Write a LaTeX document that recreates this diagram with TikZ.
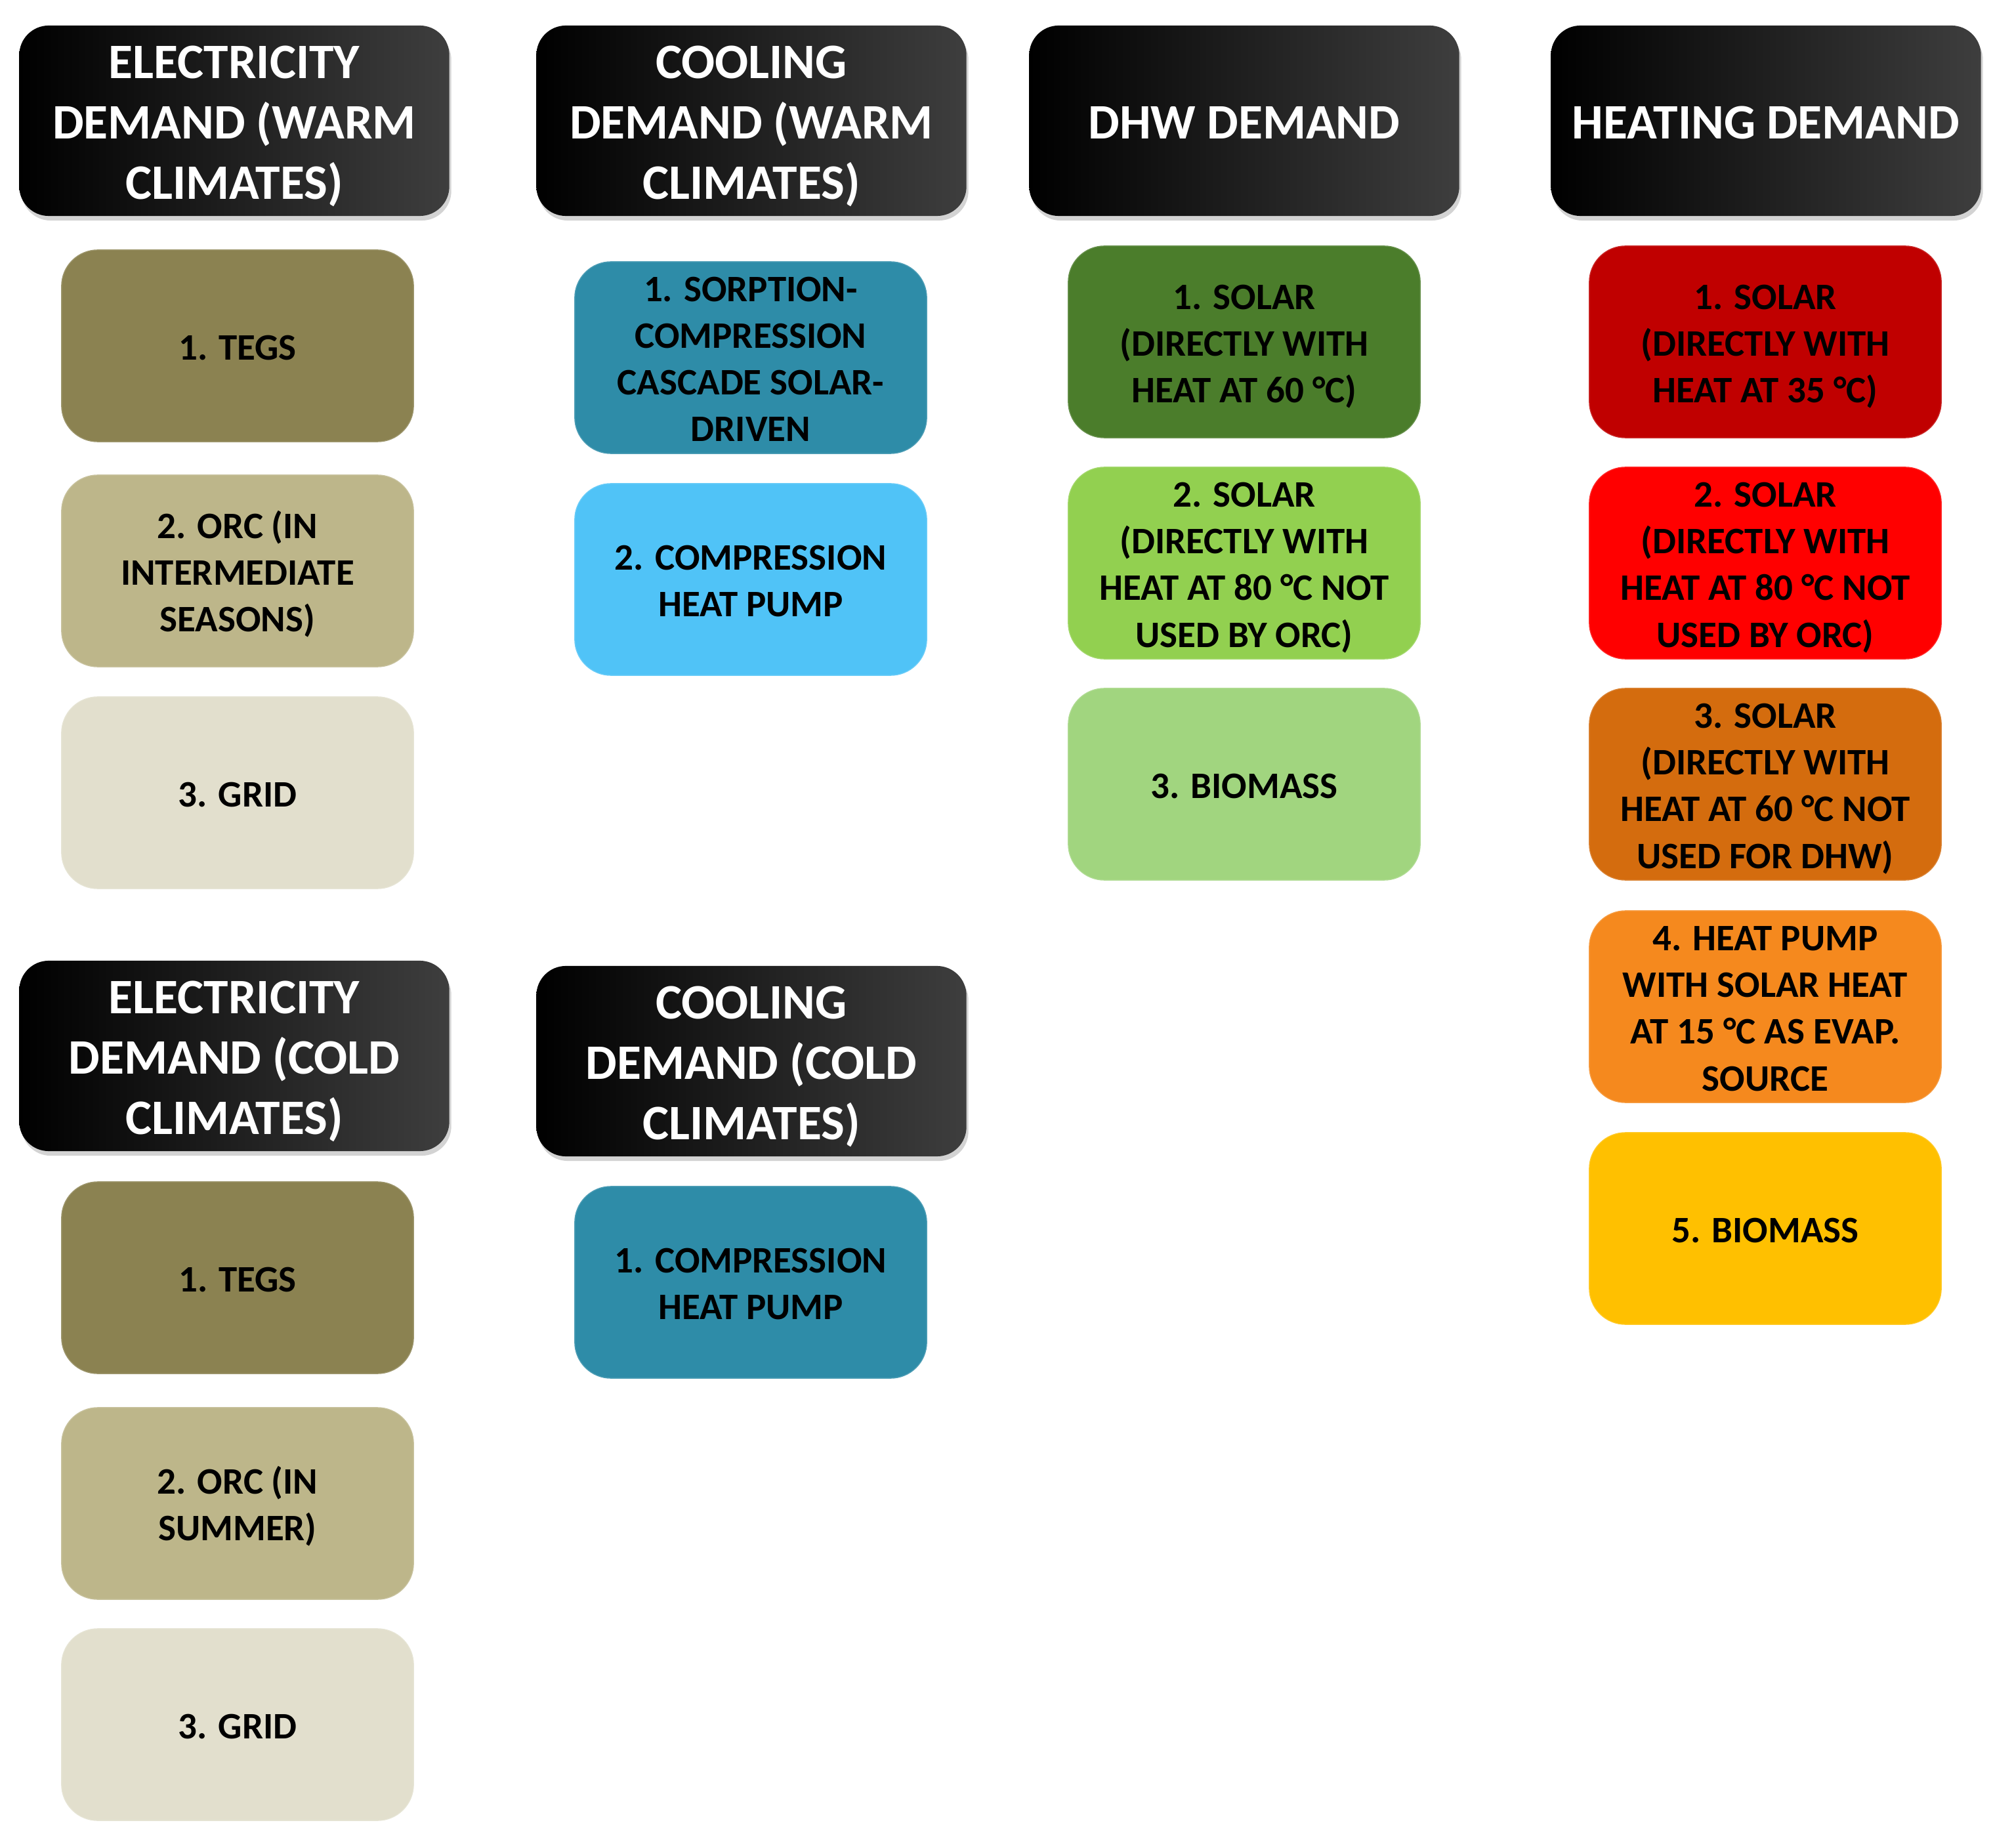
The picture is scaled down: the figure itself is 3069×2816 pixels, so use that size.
\documentclass[tikz,border=0pt]{standalone}
\usepackage{fontspec}
\setmainfont{Carlito}
\usepackage{tikz}
\usetikzlibrary{shadows}

\definecolor{headgray}{HTML}{3E3E3E}
\definecolor{tegsolive}{HTML}{8B8251}
\definecolor{orctan}{HTML}{BDB68A}
\definecolor{gridbeige}{HTML}{E2DFCD}
\definecolor{coolteal}{HTML}{2E8CA8}
\definecolor{coolsky}{HTML}{50C3F7}
\definecolor{dhwdark}{HTML}{4B7D2B}
\definecolor{dhwlight}{HTML}{92D050}
\definecolor{dhwpale}{HTML}{A1D57F}
\definecolor{heatdark}{HTML}{C00000}
\definecolor{heatred}{HTML}{FF0000}
\definecolor{heatbrown}{HTML}{D46C0E}
\definecolor{heatorange}{HTML}{F5891E}
\definecolor{heatyellow}{HTML}{FFC000}

% struts that keep the text blocks centred like the slide boxes
\newcommand{\headtop}{\rule{0pt}{21.6pt}}
\newcommand{\headbot}{\rule[-6pt]{0pt}{6pt}}
\newcommand{\boxtop}{\rule{0pt}{16.7pt}}
\newcommand{\boxbot}{\rule[-4.5pt]{0pt}{4.5pt}}

\begin{document}
\begin{tikzpicture}
[x=0.01cm,y=-0.01cm,
  headdecorate/.style={shape=rectangle,rounded corners=0.45cm,inner sep=0pt,
    minimum width=6.55cm,minimum height=2.9cm,align=center,text=white,
    left color=black,middle color=black,right color=headgray,
    drop shadow={shadow xshift=0.03cm,shadow yshift=-0.07cm,opacity=0.35},
    font=\fontsize{21.5}{26.2}\selectfont\bfseries},%
  boxdecorate/.style={shape=rectangle,rounded corners=0.55cm,inner sep=0pt,
    minimum width=5.36cm,minimum height=2.92cm,align=center,text=black,
    font=\fontsize{16.2}{20.2}\selectfont\bfseries}]
\useasboundingbox (0,0) rectangle (3069,2816);
%% demand headers
\foreach \nodename/\x/\y/\nodetext in {
  elecwarm/357/184/{ELECTRICITY\\DEMAND (WARM\\CLIMATES)},
  coolwarm/1145/184/{COOLING\\DEMAND (WARM\\CLIMATES)},
  dhw/1896/184/{DHW DEMAND},
  heating/2691/184/{HEATING DEMAND},
  eleccold/357/1609/{ELECTRICITY\\DEMAND (COLD\\CLIMATES)},
  coolcold/1145/1617/{COOLING\\DEMAND (COLD\\CLIMATES)}}
{
  \node (\nodename) at (\x,\y) [headdecorate] {\headtop\nodetext\headbot};
}
%% supply options
\foreach \nodename/\x/\y/\fillcolor/\nodetext in {
  ew1/362/527/tegsolive/{1. TEGS},
  ew2/362/870/orctan/{2. ORC (IN\\INTERMEDIATE\\SEASONS)},
  ew3/362/1208/gridbeige/{3. GRID},
  cw1/1144/545/coolteal/{1. SORPTION-\\COMPRESSION\\CASCADE SOLAR-\\DRIVEN},
  cw2/1144/883/coolsky/{2. COMPRESSION\\HEAT PUMP},
  d1/1896/521/dhwdark/{1. SOLAR\\(DIRECTLY WITH\\HEAT AT 60 °C)},
  d2/1896/858/dhwlight/{2. SOLAR\\(DIRECTLY WITH\\HEAT AT 80 °C NOT\\USED BY ORC)},
  d3/1896/1195/dhwpale/{3. BIOMASS},
  h1/2690/521/heatdark/{1. SOLAR\\(DIRECTLY WITH\\HEAT AT 35 °C)},
  h2/2690/858/heatred/{2. SOLAR\\(DIRECTLY WITH\\HEAT AT 80 °C NOT\\USED BY ORC)},
  h3/2690/1195/heatbrown/{3. SOLAR\\(DIRECTLY WITH\\HEAT AT 60 °C NOT\\USED FOR DHW)},
  h4/2690/1534/heatorange/{4. HEAT PUMP\\WITH SOLAR HEAT\\AT 15 °C AS EVAP.\\SOURCE},
  h5/2690/1872/heatyellow/{5. BIOMASS},
  ec1/362/1947/tegsolive/{1. TEGS},
  ec2/362/2291/orctan/{2. ORC (IN\\SUMMER)},
  ec3/362/2628/gridbeige/{3. GRID},
  cc1/1144/1954/coolteal/{1. COMPRESSION\\HEAT PUMP}}
{
  \node (\nodename) at (\x,\y) [boxdecorate,fill=\fillcolor,draw=\fillcolor!85!white] {\boxtop\nodetext\boxbot};
}
\end{tikzpicture}
\end{document}
